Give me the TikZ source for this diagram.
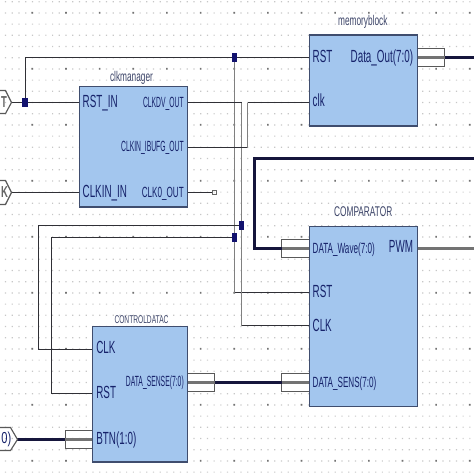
\documentclass[tikz,border=0pt]{standalone}
\usepackage{fontspec}
\setmainfont{Liberation Sans}
\definecolor{bloccoazz}{HTML}{A3C6EE}
\definecolor{bordoblu}{HTML}{3F4D6E}
\definecolor{testoblu}{HTML}{16226A}
\definecolor{titolo}{HTML}{3C4468}
\definecolor{nodoblu}{HTML}{12126E}
\definecolor{filoscuro}{HTML}{303036}
\definecolor{busscuro}{HTML}{16163C}
\tikzset{
    blocco/.style={draw=bordoblu,fill=bloccoazz,line width=.9pt,inner sep=0pt,outer sep=0pt},
    portbig/.style={font=\fontsize{12.5}{13}\selectfont,text=testoblu,inner sep=0pt,xscale=.56,transform shape},
    portmid/.style={font=\fontsize{10.5}{12}\selectfont,text=testoblu,inner sep=0pt,xscale=.55,transform shape},
    portsmall/.style={font=\fontsize{10.5}{12}\selectfont,text=testoblu,inner sep=0pt,xscale=.46,transform shape},
    titolob/.style={font=\fontsize{10}{12}\selectfont,text=titolo,inner sep=0pt,xscale=.59,transform shape,anchor=base},
    giunto/.style={fill=nodoblu,inner sep=0pt,outer sep=0pt,minimum width=.14cm,minimum height=.225cm},
    filo/.style={draw=filoscuro,line width=.7pt},
    filogrigio/.style={draw=black!50,line width=1.2pt},
    bus/.style={draw=busscuro,line width=1.9pt},
    busbox/.style={draw=black!65,line width=.7pt,inner sep=0pt,outer sep=0pt,minimum width=.6875cm,minimum height=.45cm},
    busmid/.style={draw=black!55,line width=1.9pt},
    pad/.style={draw=black!65,line width=.8pt},
    padtxt/.style={font=\fontsize{11.3}{12}\selectfont\bfseries,text=black!60,inner sep=0pt,anchor=west,xscale=.6,transform shape},
}
\begin{document}
\begin{tikzpicture}[x=.025cm,y=-.025cm]
        \useasboundingbox(-.5,-.5)rectangle(473.5,473.5);
        %griglia
            \fill[black!22]\foreach \r in {0,...,42}{\foreach \c in {0,...,69}{(4.4+6.73*\c,.6+11.2*\r)rectangle++(1.2,1.2)}};
            \fill[black!55]\foreach \r in {0,...,8}{\foreach \c in {0,...,13}{(31+33.65*\c,11.4+56*\r)rectangle++(1.6,1.6)}};
        %punti di collegamento
            \node[giunto](gRstA)at(24.5,102){};
            \node[giunto](gRstB)at(234,57){};
            \node[giunto](gRstC)at(234,237){};
            \node[giunto](gClkA)at(241,225){};
            \coordinate(padRst)at(11,102);
            \coordinate(padClk)at(11,192);
            \coordinate(padBtn)at(17,439);
            \coordinate(cloRst)at(79,102);
            \coordinate(cloIn)at(79,192);
            \coordinate(cloDv)at(187,102);
            \coordinate(cloBuf)at(187,147);
            \coordinate(cloOut)at(187,192);
            \coordinate(memRst)at(309,57);
            \coordinate(memClk)at(309,102);
            \coordinate(cmpRst)at(309,292);
            \coordinate(cmpClk)at(309,325);
            \coordinate(cmpPwm)at(417,248);
            \coordinate(ctlClk)at(92,349);
            \coordinate(ctlRst)at(92,393);
            \coordinate(angDv)at(241,102);
            \coordinate(angBufA)at(247,147);
            \coordinate(angBufB)at(247,102);
            \coordinate(angRst)at(234,292);
            \coordinate(angClk)at(241,325);
            \coordinate(fineMem)at(474,57);
            \coordinate(finePwm)at(474,248);
            \coordinate(ritornoA)at(474,158);
            \coordinate(ritornoB)at(254,158);
            \coordinate(ritornoC)at(254,248);
        %bus
            \node[busbox](boxMem)at(430.7,57){};
            \node[busbox](boxWave)at(295,248){};
            \node[busbox](boxSenseA)at(200.7,382){};
            \node[busbox](boxSenseB)at(295,382){};
            \node[busbox](boxBtn)at(78.5,439){};
            \draw[busmid](boxMem.west)--(boxMem.east);
            \draw[busmid](boxWave.west)--(boxWave.east);
            \draw[busmid](boxSenseA.west)--(boxSenseA.east);
            \draw[busmid](boxSenseB.west)--(boxSenseB.east);
            \draw[busmid](boxBtn.west)--(boxBtn.east);
            \draw[bus](boxMem.east)--(fineMem);
            \draw[bus](ritornoA)--(ritornoB)--(ritornoC)--(boxWave.west);
            \draw[bus](boxSenseA.east)--(boxSenseB.west);
            \draw[bus](padBtn)--(boxBtn.west);
            \draw[busmid](cmpPwm)--(finePwm);
        %linea reset
            \draw[filo](padRst)--(gRstA)--(cloRst);
            \draw[filo](gRstA)|-(gRstB);
            \draw[filo](gRstB)--(memRst);
            \draw[filogrigio](gRstB)--(gRstC)--(angRst);
            \draw[filo](angRst)--(cmpRst);
            \draw[filo](gRstC)-|(51,393)--(ctlRst);
        %linea clock
            \draw[filo](cloDv)--(angDv);
            \draw[filogrigio](angDv)--(gClkA)--(angClk);
            \draw[filo](angClk)--(cmpClk);
            \draw[filo](gClkA)-|(38,349)--(ctlClk);
            \draw[filo](cloBuf)--(angBufA);
            \draw[filogrigio](angBufA)--(angBufB);
            \draw[filo](angBufB)--(memClk);
        %ingresso clock
            \draw[filo](padClk)--(cloIn);
        %uscita libera
            \node[draw=black!60,line width=.5pt,inner sep=0pt,minimum size=.1cm](fineOut)at(214,192){};
            \draw[filo](cloOut)--(fineOut);
        %piedini
            \draw[pad](-5,90)--(5,90)--(padRst)--(5,113)--(-5,113);
            \draw[pad](-5,180)--(5,180)--(padClk)--(5,204)--(-5,204);
            \draw[pad](-5,427)--(10,427)--(padBtn)--(10,450)--(-5,450);
            \node[padtxt](txtRst)at(.5,102){T};
            \node[padtxt](txtClk)at(.5,192){K};
            \node[inner sep=0pt,anchor=east,font=\fontsize{11.3}{12}\selectfont,text=testoblu,xscale=.7,transform shape](txtBtn)at(11,439){0)};
        %blocchi
            \node[blocco,minimum width=2.7cm,minimum height=3.01cm](clkmanager)at(133,146.3){};
            \node[blocco,minimum width=2.7cm,minimum height=2.275cm](memoryblock)at(363,80){};
            \node[blocco,minimum width=2.7cm,minimum height=4.5cm](comparator)at(363,315.7){};
            \node[blocco,minimum width=2.375cm,minimum height=3.39cm](controldatac)at(139.8,393.8){};
        %titoli
            \node[titolob](titClk)at(131,81){clkmanager};
            \node[titolob](titMem)at(362.3,25.3){memoryblock};
            \node[titolob](titCmp)at(362.7,215.7){COMPARATOR};
            \node[titolob,scale=.8](titCtl)at(141,323){CONTROLDATAC};
        %etichette clkmanager
            \node[portbig,anchor=base west](lblCloRst)at(82,106.5){RST\_IN};
            \node[portbig,anchor=base west](lblCloIn)at(82,197){CLKIN\_IN};
            \node[portsmall,anchor=base east](lblCloDv)at(183.4,106.5){CLKDV\_OUT};
            \node[portsmall,anchor=base east](lblCloBuf)at(183.4,150.7){CLKIN\_IBUFG\_OUT};
            \node[portmid,anchor=base east](lblCloOut)at(183.4,196.7){CLK0\_OUT};
        %etichette memoryblock
            \node[portbig,anchor=base west](lblMemRst)at(312,61.7){RST};
            \node[portbig,anchor=base west](lblMemClk)at(312,106){clk};
            \node[portbig,anchor=base east](lblMemOut)at(412.7,61.7){Data\_Out(7:0)};
        %etichette comparator
            \node[portmid,anchor=base west](lblCmpWave)at(312,253){DATA\_Wave(7:0)};
            \node[portbig,anchor=base east](lblCmpPwm)at(412.7,252.3){PWM};
            \node[portbig,anchor=base west](lblCmpRst)at(312,297.3){RST};
            \node[portbig,anchor=base west](lblCmpClk)at(312,331.3){CLK};
            \node[portmid,anchor=base west](lblCmpSens)at(312,387){DATA\_SENS(7:0)};
        %etichette controldatac
            \node[portbig,anchor=base west](lblCtlClk)at(95.7,353.3){CLK};
            \node[portbig,anchor=base west](lblCtlRst)at(95.7,398){RST};
            \node[portbig,anchor=base west](lblCtlBtn)at(95.7,443.7){BTN(1:0)};
            \node[portsmall,anchor=base east](lblCtlSense)at(183.4,386.3){DATA\_SENSE(7:0)};
        \end{tikzpicture}
\end{document}
